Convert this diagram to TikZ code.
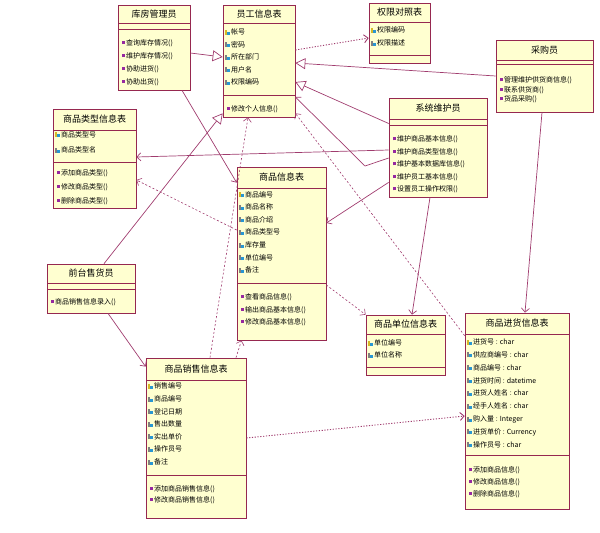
\documentclass[tikz,border=0pt]{standalone}
\usepackage{fontspec}
\setmainfont{Noto Sans CJK SC}
\usepackage{tikz}
\usetikzlibrary{
    arrows.meta
}
\definecolor{clsfill}{RGB}{255,255,208}
\definecolor{clsborder}{RGB}{150,40,80}
\definecolor{linkc}{RGB}{160,60,110}
\definecolor{attc}{RGB}{40,150,210}
\definecolor{keyc}{RGB}{215,185,40}
\definecolor{mthc}{RGB}{150,40,160}

\newcommand{\ikey}{\textcolor{keyc}{\rule{2pt}{5pt}}\textcolor{attc}{\rule{3pt}{3pt}}\hspace{1pt}}
\newcommand{\iatt}{\textcolor{gray}{\rule{2pt}{5pt}}\textcolor{attc}{\rule{3pt}{3pt}}\hspace{1pt}}
\newcommand{\imth}{\hspace{2pt}\textcolor{mthc}{\rule[1.5pt]{3pt}{3pt}}\hspace{1pt}}

% class box: name, x1, y1, x2, y2, first divider, second divider, title
\newcommand{\umlclass}[8]{%
    \node[clsbox, minimum width={#4-#2}, minimum height={#5-#3}] (#1) at ({(#2+#4)/2}, {(#3+#5)/2}) {};
    \draw[clsline] (#2, #6) -- (#4, #6) (#2, #7) -- (#4, #7);
    \node[clstitle] (#1-t) at ({(#2+#4)/2}, {(#3+#6)/2}) {#8};
}

\tikzset{
    clsbox/.style={draw=clsborder, fill=clsfill, line width=0.7pt, inner sep=0pt},
    clsline/.style={draw=clsborder, line width=0.7pt},
    clstitle/.style={font=\fontsize{9}{10}\selectfont},
    items/.style={anchor=north west, align=left, inner sep=0pt, font=\fontsize{7}{#1}\selectfont},
    items/.default=12.6,
    gen/.style={draw=linkc, line width=0.7pt, -{Triangle[open, length=10pt, width=11pt]}},
    assoc/.style={draw=linkc, line width=0.7pt, -{Straight Barb[length=4pt, width=8pt]}},
    dep/.style={draw=linkc, line width=0.6pt, dash pattern=on 2pt off 2pt, -{Straight Barb[length=4pt, width=8pt]}},
    depdot/.style={draw=linkc, line width=0.9pt, dash pattern=on 1.2pt off 1.6pt, -{Straight Barb[length=4pt, width=8pt]}}
}

\begin{document}
\begin{tikzpicture}[x=1pt, y=-1pt]
    \useasboundingbox (0, 0) rectangle (600, 533);

    \umlclass{kf}{118}{5}{190}{90}{23}{29}{库房管理员}
    \node[items=13] (kf-m) at (120, 39.5) {\imth 查询库存情况()\\ \imth 维护库存情况()\\ \imth 协助进货()\\ \imth 协助出货()};

    \umlclass{yg}{223}{5}{295}{117}{23}{95}{员工信息表}
    \node[items=12.5] (yg-a) at (225, 28.5) {\ikey 帐号\\ \iatt 密码\\ \iatt 所在部门\\ \iatt 用户名\\ \iatt 权限编码};
    \node[items] (yg-m) at (225, 105) {\imth 修改个人信息()};

    \umlclass{qx}{369}{3}{430}{63}{22}{55}{权限对照表}
    \node[items=12.7] (qx-a) at (371, 26.8) {\ikey 权限编码\\ \iatt 权限描述};

    \umlclass{cg}{496}{40}{593}{112}{60}{64}{采购员}
    \node[items=9.5] (cg-m) at (498, 76.8) {\imth 管理维护供货商信息()\\ \imth 联系供货商()\\ \imth 货品采购()};

    \umlclass{lx}{53}{109}{136}{208}{130}{162}{商品类型信息表}
    \node[items=15.7] (lx-a) at (55, 131) {\ikey 商品类型号\\ \iatt 商品类型名};
    \node[items=13.7] (lx-m) at (55, 169.5) {\imth 添加商品类型()\\ \imth 修改商品类型()\\ \imth 删除商品类型()};

    \umlclass{wh}{389}{98}{487}{197}{119}{125}{系统维护员}
    \node[items=12.5] (wh-m) at (391, 135.8) {\imth 维护商品基本信息()\\ \imth 维护商品类型信息()\\ \imth 维护基本数据库信息()\\ \imth 维护员工基本信息()\\ \imth 设置员工操作权限()};

    \umlclass{sp}{237}{167}{326}{340}{188}{283}{商品信息表}
    \node[items] (sp-a) at (239, 191) {\ikey 商品编号\\ \iatt 商品名称\\ \iatt 商品介绍\\ \iatt 商品类型号\\ \iatt 库存量\\ \iatt 单位编号\\ \iatt 备注};
    \node[items=12.5] (sp-m) at (239, 293.5) {\imth 查看商品信息()\\ \imth 输出商品基本信息()\\ \imth 修改商品基本信息()};

    \umlclass{qt}{47}{264}{135}{313}{283}{289}{前台售货员}
    \node[items] (qt-m) at (49, 298.5) {\imth 商品销售信息录入()};

    \umlclass{xs}{146}{358}{246}{518}{380}{475}{商品销售信息表}
    \node[items] (xs-a) at (148, 382.8) {\ikey 销售编号\\ \iatt 商品编号\\ \iatt 登记日期\\ \iatt 售出数量\\ \iatt 实出单价\\ \iatt 操作员号\\ \iatt 备注};
    \node[items=11] (xs-m) at (148, 485) {\imth 添加商品销售信息()\\ \imth 修改商品销售信息()};

    \umlclass{dw}{366}{315}{445}{375}{334}{367}{商品单位信息表}
    \node[items=12.3] (dw-a) at (368, 339.5) {\ikey 单位编号\\ \iatt 单位名称};

    \umlclass{jh}{465}{313}{569}{509}{334}{455}{商品进货信息表}
    \node[items=12.83] (jh-a) at (467, 338.5) {\ikey 进货号 : char\\ \iatt 供应商编号 : char\\ \iatt 商品编号 : char\\ \iatt 进货时间 : datetime\\ \iatt 进货人姓名 : char\\ \iatt 经手人姓名 : char\\ \iatt 购入量 : Integer\\ \iatt 进货单价 : Currency\\ \iatt 操作员号 : char};
    \node[items=11.7] (jh-m) at (467, 466.8) {\imth 添加商品信息()\\ \imth 修改商品信息()\\ \imth 删除商品信息()};

    % generalisations
    \draw
    ([yshift=-5.5pt]kf.east) edge[gen] ([yshift=4pt]yg.west)
    (cg.west) edge[gen] ([yshift=-2pt]yg.east)
    ([yshift=24pt]wh.west) edge[gen] ([yshift=-21pt]yg.east)
    ([xshift=13pt]qt.north) edge[gen] ([yshift=4pt]yg.south west);

    % associations
    \draw
    ([xshift=28pt]kf.south) edge[assoc] ([yshift=-16pt]sp.north west)
    ([yshift=-2.5pt]wh.west) edge[assoc] ([yshift=1.5pt]lx.east)
    ([yshift=15pt]wh.south west) edge[assoc] ([yshift=30.5pt]sp.east)
    ([xshift=-8pt]wh.south) edge[assoc] ([xshift=6.5pt]dw.north)
    ([xshift=-2.5pt]cg.south) edge[assoc] ([xshift=8pt]jh.north)
    ([xshift=17pt]qt.south) edge[assoc] ([yshift=-9pt]xs.north west);
    \draw[assoc] ([yshift=-10.5pt]wh.west) -- (365, 166) -- ([yshift=-36pt]yg.east);

    % dependencies
    \draw
    ([yshift=11pt]yg.east) edge[depdot] ([yshift=-5pt]qx.west)
    ([yshift=23.5pt]sp.west) edge[dep] ([yshift=-21.5pt]lx.east)
    ([xshift=14pt]xs.north) edge[dep] ([xshift=-11pt]yg.south)
    ([xshift=40pt]xs.north) edge[dep] ([xshift=-40pt]sp.south)
    ([yshift=-31.5pt]sp.east) edge[dep] (dw.north west)
    ([yshift=-23pt]jh.north west) edge[dep] ([yshift=4pt]yg.south east)
    (xs.east) edge[depdot] ([yshift=-5pt]jh.west);
\end{tikzpicture}
\end{document}
